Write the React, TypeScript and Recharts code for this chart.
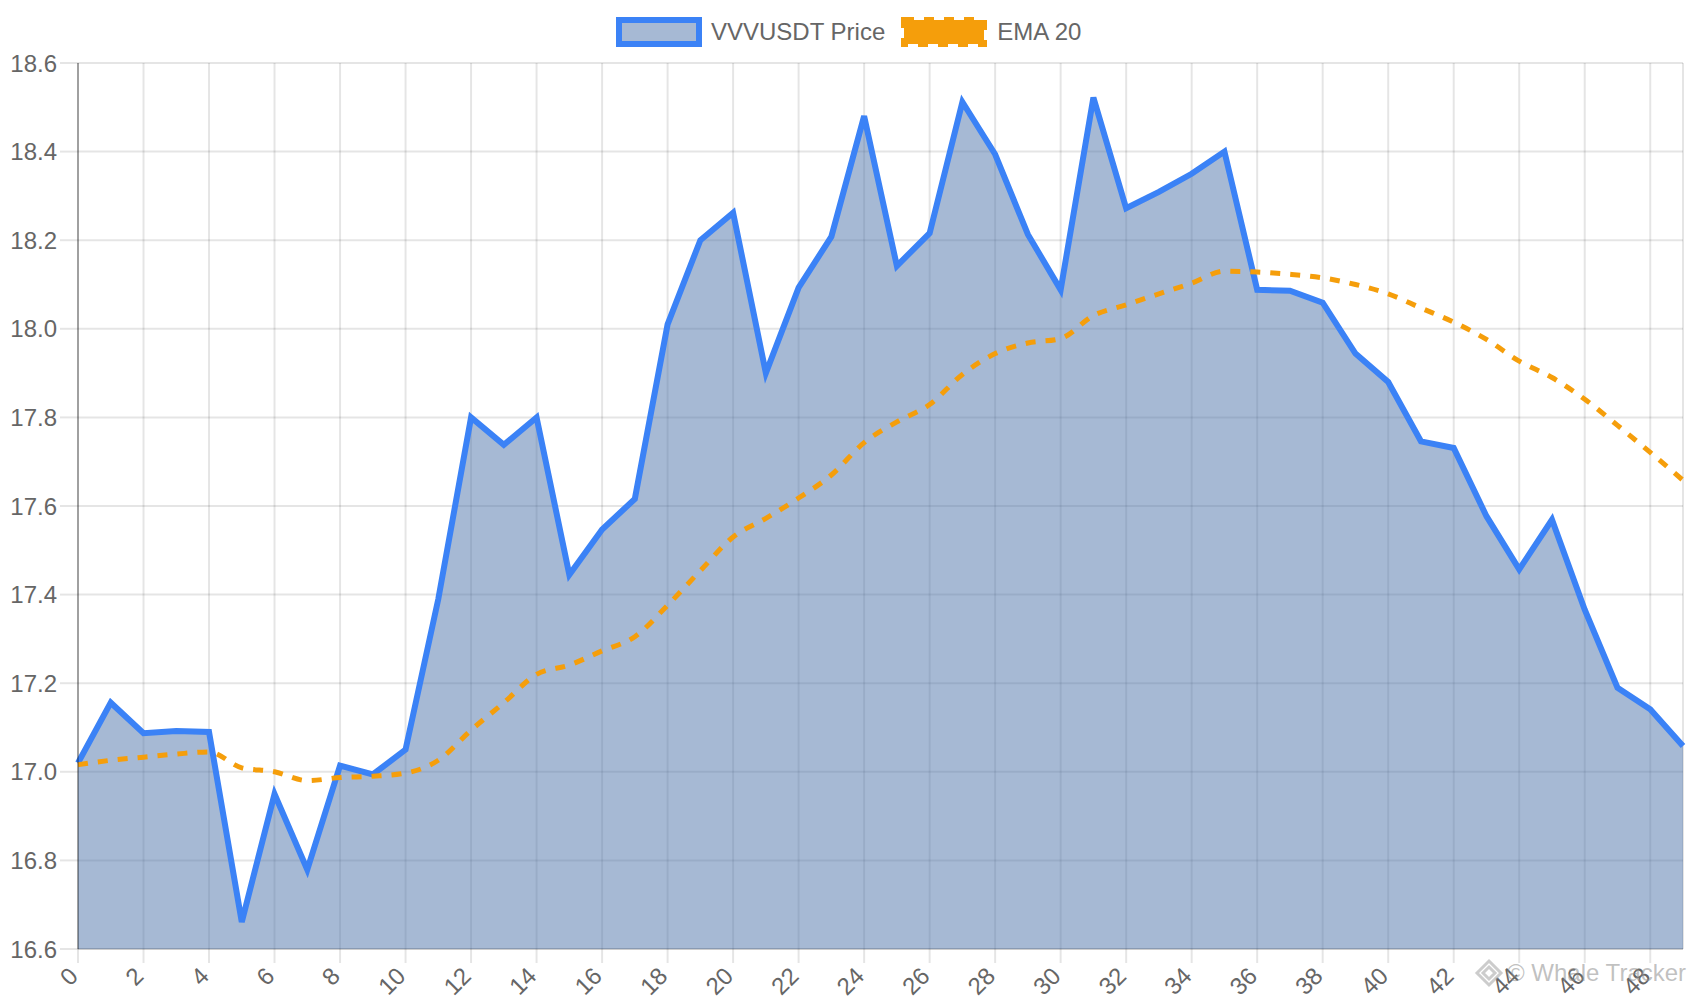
import { ComposedChart, Area, Line, XAxis, YAxis, CartesianGrid } from 'recharts';

const labels = Array.from({ length: 50 }, (_, i) => String(i));

const price = [
  17.02, 17.156, 17.087, 17.092, 17.09, 16.661, 16.95, 16.779, 17.014, 16.994,
  17.05, 17.39, 17.8, 17.738, 17.8, 17.445, 17.547, 17.616, 18.01, 18.2,
  18.262, 17.9, 18.093, 18.208, 18.48, 18.142, 18.216, 18.512, 18.394, 18.213,
  18.088, 18.522, 18.272, 18.309, 18.35, 18.4, 18.088, 18.086, 18.059, 17.944,
  17.88, 17.746, 17.731, 17.577, 17.457, 17.569, 17.366, 17.19, 17.141, 17.058,
];

const ema20 = [
  17.016, 17.026, 17.033, 17.04, 17.045, 17.009, 17.0, 16.98, 16.987, 16.99,
  16.997, 17.026, 17.094, 17.156, 17.22, 17.241, 17.273, 17.305, 17.376, 17.454,
  17.53, 17.572, 17.618, 17.67, 17.743, 17.79, 17.829, 17.897, 17.944, 17.968,
  17.978, 18.03, 18.054, 18.079, 18.103, 18.13, 18.128, 18.123, 18.115, 18.1,
  18.079, 18.047, 18.015, 17.976, 17.927, 17.89, 17.841, 17.782, 17.721, 17.658,
];

const yTicks = [16.6, 16.8, 17.0, 17.2, 17.4, 17.6, 17.8, 18.0, 18.2, 18.4, 18.6];

const data = labels.map((label, i) => ({ label, price: price[i], ema: ema20[i] }));

const FONT = '"Liberation Sans", Arial, sans-serif';
const GRID = 'rgba(0,0,0,0.1)';

const XTick = (props: any) => {
  const { x, y, payload } = props;
  const tx = x - 3;
  return (
    <text
      x={tx}
      y={y}
      transform={`rotate(-45, ${tx}, ${y})`}
      textAnchor="end"
      dominantBaseline="middle"
      fill="#666"
      fontSize={24}
      fontFamily={FONT}
    >
      {payload.value}
    </text>
  );
};

export default function App() {
  return (
    <div style={{ position: 'absolute', left: 0, top: 0, width: 1700, height: 1000, background: '#fff', fontFamily: FONT, overflow: 'hidden' }}>
      {/* legend */}
      <div style={{ position: 'absolute', top: 17, left: 616, display: 'flex', alignItems: 'center', height: 30 }}>
        <svg width={86} height={30} style={{ display: 'block' }}>
          <rect x={3} y={3} width={80} height={24} fill="#a6b9d4" stroke="#3b82f6" strokeWidth={6} />
        </svg>
        <span style={{ marginLeft: 9, fontSize: 24, color: '#666', lineHeight: '30px' }}>VVVUSDT Price</span>
        <svg width={86} height={30} style={{ display: 'block', marginLeft: 16 }}>
          <rect x={3} y={3} width={80} height={24} fill="#f59e0b" stroke="#f59e0b" strokeWidth={6} strokeDasharray="10 10" />
        </svg>
        <span style={{ marginLeft: 10, fontSize: 24, color: '#666', lineHeight: '30px' }}>EMA 20</span>
      </div>

      <ComposedChart width={1700} height={1000} data={data} margin={{ top: 63, right: 17, left: 0, bottom: 0 }}>
        <CartesianGrid stroke={GRID} strokeWidth={2} />
        <XAxis
          dataKey="label"
          scale="point"
          interval={1}
          height={51}
          tick={<XTick />}
          tickSize={14}
          tickMargin={10}
          tickLine={{ stroke: GRID, strokeWidth: 2 }}
          axisLine={{ stroke: GRID, strokeWidth: 2 }}
        />
        <YAxis
          width={78}
          domain={[16.6, 18.6]}
          ticks={yTicks}
          interval={0}
          tickFormatter={(v: number) => v.toFixed(1)}
          tick={{ fill: '#666', fontSize: 24, fontFamily: FONT }}
          tickSize={18}
          tickMargin={3}
          tickLine={{ stroke: GRID, strokeWidth: 2 }}
          axisLine={{ stroke: 'rgba(0,0,0,0.3)', strokeWidth: 2 }}
          allowDataOverflow
        />
        <Area
          type="linear"
          dataKey="price"
          stroke="#3b82f6"
          strokeWidth={6}
          strokeLinejoin="miter"
          fill="#4d73a9"
          fillOpacity={0.5}
          dot={false}
          activeDot={false}
          isAnimationActive={false}
        />
        <Line
          type="monotone"
          dataKey="ema"
          stroke="#f59e0b"
          strokeWidth={5}
          strokeDasharray="10 10"
          dot={false}
          activeDot={false}
          isAnimationActive={false}
        />
      </ComposedChart>

      {/* watermark */}
      <div
        style={{
          position: 'absolute',
          left: 1474,
          top: 958,
          fontSize: 24,
          color: 'rgba(140,140,140,0.55)',
          whiteSpace: 'nowrap',
          display: 'flex',
          alignItems: 'center',
        }}
      >
        <svg width={30} height={30} style={{ marginRight: 3 }}>
          <path d="M15 3 L27 15 L15 27 L3 15 Z M15 9 L21 15 L15 21 L9 15 Z" fill="none" stroke="rgba(170,170,170,0.6)" strokeWidth={3} />
        </svg>
        <span>© Whale Tracker</span>
      </div>
    </div>
  );
}
